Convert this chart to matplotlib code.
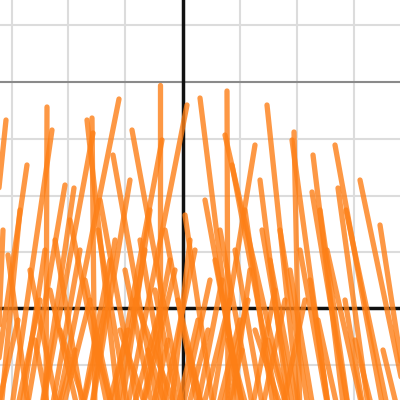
import matplotlib
matplotlib.use("Agg")
import matplotlib.pyplot as plt
import numpy as np

top_x = [6,27,47,52,74,87,92,93,119,113,132,160,162,187,200,227,225,232,255,267,294,292,313,335,312,360,338,346,380,327,
         3,8,20,45,65,50,70,90,100,110,130,140,150,135,165,175,185,195,205,210,220,230,245,250,260,270,280,285,300,310,320,
         120,60,255,345,160,240,18,355,383,
         30,40,55,80,85,98,105,115,125,145,155,170,178,190,198,215,222,235,248,262,275,290,305,318,
         35,75,95,128,148,168,188,208,228,242,268]
top_y = [120,165,107,130,188,120,118,133,99,155,130,85,140,105,98,91,135,165,145,105,132,140,155,145,192,180,188,210,225,250,
         230,255,210,250,185,290,220,300,200,260,180,240,210,300,230,270,215,250,200,280,230,300,210,270,180,260,230,300,250,280,210,
         330,330,330,300,310,320,320,340,350,
         270,300,240,250,280,230,310,240,270,250,290,260,300,240,320,260,280,250,300,230,290,270,300,320,
         340,350,340,330,350,340,350,330,340,350,340]
bottom_x = [-25,-10,46,10,40,120,95,40,55,160,185,160,110,125,240,228,290,280,210,300,300,330,345,385,350,410,370,390,410,365,
            -5,30,0,20,25,80,110,60,140,80,90,170,120,180,200,140,215,160,245,180,255,200,275,230,290,300,310,260,330,330,350,
            150,90,285,365,130,215,-5,375,400,
            60,15,85,50,115,130,80,90,155,115,180,140,205,170,175,245,195,265,220,295,250,315,280,340,
            50,55,115,105,170,150,205,185,250,225,290]
bottom_y = 420

fig = plt.figure(figsize=(4, 4), dpi=100)
ax = fig.add_axes([0, 0, 1, 1])
ax.set_xlim(0, 400)
ax.set_ylim(400, 0)
ax.axis("off")
for gx in [12, 68, 125, 240, 297, 354]:
    ax.axvline(gx, color="#dcdcdc", lw=1.5, zorder=0)
for gy in [25, 139, 196, 252, 365]:
    ax.axhline(gy, color="#dcdcdc", lw=1.5, zorder=0)
ax.axhline(82, color="#8a8a8a", lw=1.5, zorder=0)
ax.axvline(183, color="#111111", lw=2.5, zorder=1)
ax.axhline(308, color="#111111", lw=2.5, zorder=1)
for tx, ty, bx in zip(top_x, top_y, bottom_x):
    ax.plot([tx, bx], [ty, bottom_y], color="#fd7f16", lw=3.8, alpha=0.8,
            solid_capstyle="round", zorder=2)
fig.savefig("out.png", dpi=100)
